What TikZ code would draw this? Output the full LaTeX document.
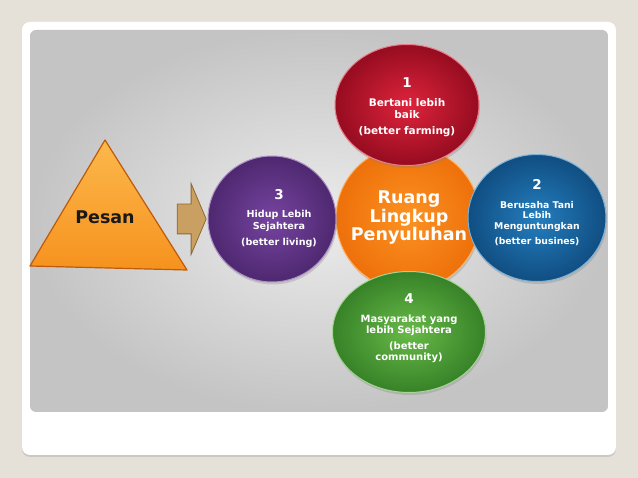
\documentclass[tikz,border=0pt]{standalone}
\usepackage{fontspec}
\setmainfont{DejaVu Sans}
\usetikzlibrary{shapes.geometric,shapes.arrows,shadows}
\definecolor{bgbeige}{RGB}{230,225,216}
\definecolor{panelin}{RGB}{236,236,236}
\definecolor{panelout}{RGB}{196,196,196}
\definecolor{redlt}{RGB}{222,36,60}
\definecolor{reddk}{RGB}{150,12,32}
\definecolor{bluelt}{RGB}{36,126,190}
\definecolor{bluedk}{RGB}{16,78,130}
\definecolor{purplt}{RGB}{118,68,160}
\definecolor{purpdk}{RGB}{78,40,112}
\definecolor{orglt}{RGB}{252,146,34}
\definecolor{orgdk}{RGB}{238,112,10}
\definecolor{grnlt}{RGB}{104,186,72}
\definecolor{grndk}{RGB}{55,130,40}
\definecolor{trilt}{RGB}{252,184,76}
\definecolor{tridk}{RGB}{246,146,30}
\definecolor{arrowfill}{RGB}{202,160,98}
\definecolor{arrowline}{RGB}{140,105,50}
\newcommand{\bignum}[1]{{\fontsize{13.5}{14}\selectfont #1}}
\tikzset{%
  bubble/.style    = {ellipse, inner sep=0pt, line width=1pt, shading=radial,%
                      drop shadow={opacity=.3, shadow xshift=1pt, shadow yshift=-2.5pt}},%
  bubbletext/.style = {align=center, text=white, inner sep=0pt,%
                      font=\bfseries\fontsize{10}{12}\selectfont}%
}

\begin{document}
\begin{tikzpicture}[x=1pt,y=-1pt]
	\useasboundingbox (0,0) rectangle (638,478);
	% background, frame and panel
	\fill [bgbeige] (0,0) rectangle (638,478);
	\fill [white, rounded corners=8pt, drop shadow={opacity=.25, shadow xshift=0pt, shadow yshift=-2pt}]
		(22,22) rectangle (616,455);
	\shade [rounded corners=6pt, inner color=panelin, outer color=panelout]
		(30,30) rectangle (608,412);
	% Pesan
	\shade [top color=trilt, bottom color=tridk, draw=orgdk!80!black, line width=1.2pt, line join=round]
		(105,140) -- (187,270) -- (30,266) -- cycle;
	\node [font=\bfseries\fontsize{17.5}{18}\selectfont, text=black!90] (pesan) at (105,217) {Pesan};
	\node [single arrow, fill=arrowfill, draw=arrowline, line width=.8pt,
		inner xsep=0pt, inner ysep=14.5pt, minimum height=29pt,
		single arrow head extend=20.5pt, single arrow tip angle=134] (arr) at (188.5,219) {};
	% circles
	\node [bubble, circle, minimum size=144pt, inner color=orglt, outer color=orgdk, draw=orglt!70!white] (pusat) at (408,218) {};
	\node [bubble, minimum width=128pt, minimum height=126pt, inner color=purplt, outer color=purpdk, draw=purplt!60!white] (c3) at (272,219) {};
	\node [bubble, minimum width=144pt, minimum height=121pt, inner color=redlt, outer color=reddk, draw=redlt!60!white] (c1) at (407,105) {};
	\node [bubble, minimum width=138pt, minimum height=127pt, inner color=bluelt, outer color=bluedk, draw=bluelt!60!white] (c2) at (537,218) {};
	\node [bubble, minimum width=153pt, minimum height=121pt, inner color=grnlt, outer color=grndk, draw=grnlt!60!white] (c4) at (409,332) {};
	% texts
	\node [bubbletext, font=\bfseries\fontsize{17.5}{18.5}\selectfont] (t0) at (409,218) {Ruang\\Lingkup\\Penyuluhan};
	\node [bubbletext, font=\bfseries\fontsize{10.5}{12}\selectfont] (t1) at (407,107)
		{\bignum{1}\\[7pt]Bertani lebih\\baik\\[4pt](better farming)};
	\node [bubbletext, font=\bfseries\fontsize{9.3}{10.5}\selectfont] (t2) at (537,212.5)
		{\bignum{2}\\[8pt]Berusaha Tani\\Lebih\\Menguntungkan\\[4.5pt](better busines)};
	\node [bubbletext, font=\bfseries\fontsize{9.6}{12}\selectfont] (t3) at (279,218.5)
		{\bignum{3}\\[6pt]Hidup Lebih\\Sejahtera\\[4pt](better living)};
	\node [bubbletext, font=\bfseries\fontsize{10}{11}\selectfont] (t4) at (409,328)
		{\bignum{4}\\[8pt]Masyarakat yang\\lebih Sejahtera\\[5pt](better\\community)};
\end{tikzpicture}
\end{document}
